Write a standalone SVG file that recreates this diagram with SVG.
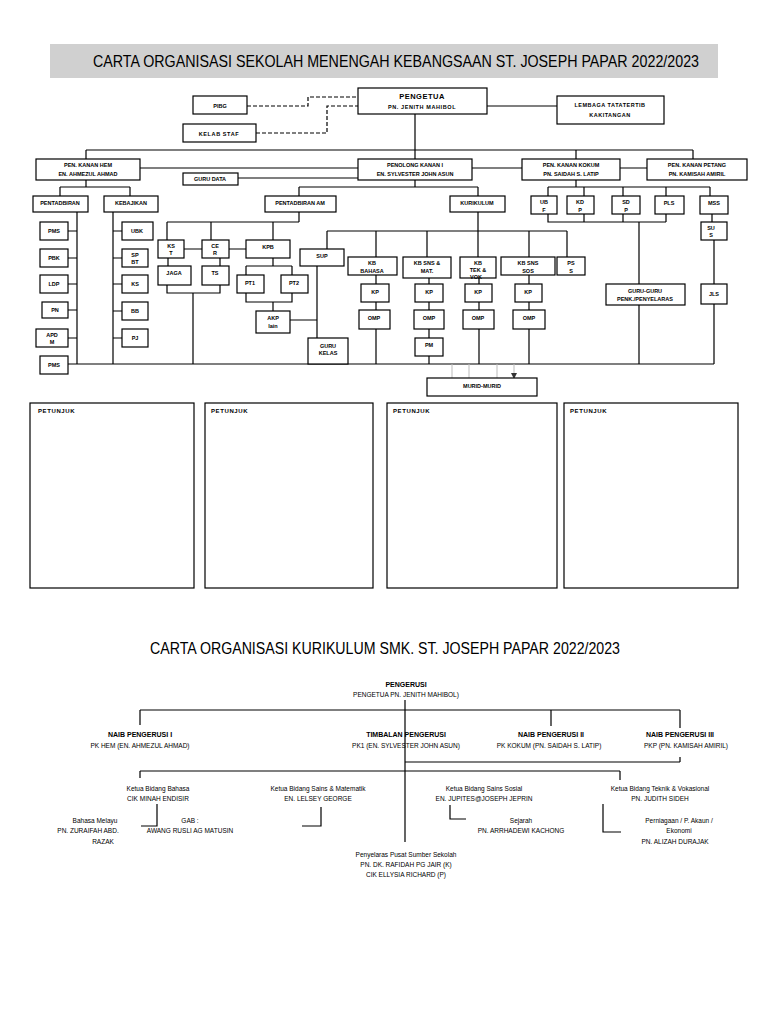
<svg xmlns="http://www.w3.org/2000/svg" width="768" height="1024" viewBox="0 0 768 1024">
<style>
rect.b{fill:#fff;stroke:#000;stroke-width:1.2}
text{font-family:"Liberation Sans",Arial,sans-serif;fill:#000}
.t{font-size:5.5px;font-weight:bold;text-anchor:middle}
.m{font-size:7.5px;font-weight:bold;text-anchor:middle}
.p{font-size:6px;font-weight:bold;letter-spacing:0.6px}
.h{font-size:7px;font-weight:bold;text-anchor:middle}
.s{font-size:6.5px;text-anchor:middle}
path.l{fill:none;stroke:#000;stroke-width:1.2}
path.d{fill:none;stroke:#000;stroke-width:1.2;stroke-dasharray:4,2}
path.g{fill:none;stroke:#bbb;stroke-width:1;marker-end:url(#ar)}
</style>
<defs><marker id="ar" markerWidth="6" markerHeight="6" refX="5" refY="3" orient="auto"><path d="M0,0 L6,3 L0,6 Z" fill="#333"/></marker></defs>
<rect width="768" height="1024" fill="#fff"/>
<rect x="50" y="44" width="668" height="34" fill="#d0d0d0"/>
<text x="396" y="67" font-size="17" text-anchor="middle" textLength="606" lengthAdjust="spacingAndGlyphs">CARTA ORGANISASI SEKOLAH MENENGAH KEBANGSAAN ST. JOSEPH PAPAR 2022/2023</text>
<g id="connectors">
<path class="d" d="M247,106H308V97H358M256,133H327V106H358"/>
<path class="l" d="M487,106H557M415,114V150M86,150H693M86,150V159M415,150V159M576,150V159M693,150V159M140,168H358M472,168H522M620,168H647M238,178H358"/>
<path class="l" d="M86,180V187M60,187H130M60,187V196M130,187V196M415,180V187M299,187H478M299,187V196M478,187V196M576,180V187M548,187H710M548,187V196M584,187V196M623,187V196M666,187V196M710,187V196"/>
<path class="l" d="M548,214V222H666M584,214V222M623,214V222M666,214V222M639,222V284M712,214V222M714,240V284M714,304V364"/>
<path class="l" d="M77,212V364M68,231H77M68,258H77M68,284H77M68,310H77M68,338H77M113,212V364M113,231H122M113,258H122M113,284H122M113,311H122M113,338H122M68,364H714"/>
<path class="l" d="M299,212V222M167,222H299M167,222V240M211,222V240M273,222V240M184,249H202M229,249H246M168,258V266M220,258V266M167,285V293H220V285M193,293V364M273,258V266M246,266H292M246,266V275M292,266V275M246,293V302H292V293M273,302V311M290,320H317"/>
<path class="l" d="M478,212V231M327,231H567M327,231V249M376,231V257M427,231V257M478,231V257M529,231V257M567,231V257M317,266V338M327,358V364"/>
<path class="l" d="M376,275V284M376,302V310M376,329V364M429,278V284M429,302V310M429,329V338M429,356V364M479,278V284M479,302V310M479,329V364M529,275V284M529,302V310M529,329V364M639,305V364"/>
<path class="g" d="M452,364V378M469,364V378M497,364V378M514,364V378"/>
<path class="l" d="M405,700V842M140,710H680M140,710V725M551,710V726M680,710V728M405,762H680M680,757V762M140,771H620M140,771V778M620,771V780M157,804V826H141M321,807V826H302M450,805V819H466M603,804V832H621"/>
</g>
<g id="pengetua"><rect class="b" x="358" y="88" width="129" height="26"/><text class="m" x="422" y="99" font-weight="normal" letter-spacing="0.5">PENGETUA</text><text class="t" x="422" y="109" letter-spacing="0.6">PN. JENITH MAHIBOL</text></g>
<g id="pibg"><rect class="b" x="193" y="96" width="54" height="18"/><text class="t" x="220" y="108">PIBG</text></g>
<g id="kelab"><rect class="b" x="183" y="124" width="73" height="18"/><text class="t" x="219" y="136" letter-spacing="0.6">KELAB STAF</text></g>
<g id="lembaga"><rect class="b" x="557" y="96" width="107" height="28"/><text class="t" x="610" y="107" letter-spacing="0.5">LEMBAGA TATATERTIB</text><text class="t" x="610" y="117" letter-spacing="0.5">KAKITANGAN</text></g>
<g id="hem"><rect class="b" x="36" y="159" width="104" height="21"/><text class="t" x="88" y="167" font-size="4.5">PEN. KANAN HEM</text><text class="t" x="88" y="176">EN. AHMEZUL AHMAD</text></g>
<g id="penolong"><rect class="b" x="358" y="159" width="114" height="21"/><text class="t" x="415" y="167" font-size="4.5">PENOLONG KANAN I</text><text class="t" x="415" y="176">EN. SYLVESTER JOHN ASUN</text></g>
<g id="kokum"><rect class="b" x="522" y="159" width="98" height="21"/><text class="t" x="571" y="167" font-size="4.5">PEN. KANAN KOKUM</text><text class="t" x="571" y="176">PN. SAIDAH S. LATIP</text></g>
<g id="petang"><rect class="b" x="647" y="159" width="100" height="21"/><text class="t" x="697" y="167" font-size="4.5">PEN. KANAN PETANG</text><text class="t" x="697" y="176">PN. KAMISAH AMIRIL</text></g>
<g id="gurudata"><rect class="b" x="183" y="173" width="55" height="12"/><text class="t" x="210" y="181" font-size="4.5">GURU DATA</text></g>
<g id="pentadbiran"><rect class="b" x="33" y="196" width="55" height="16"/><text class="t" x="60" y="205" font-size="4.5">PENTADBIRAN</text></g>
<g id="kebajikan"><rect class="b" x="104" y="196" width="54" height="16"/><text class="t" x="131" y="205" font-size="4.5">KEBAJIKAN</text></g>
<g id="pentadbiranam"><rect class="b" x="265" y="196" width="71" height="16"/><text class="t" x="300" y="205" font-size="4.5">PENTADBIRAN AM</text></g>
<g id="kurikulum"><rect class="b" x="450" y="196" width="55" height="16"/><text class="t" x="477" y="205" font-size="4.5">KURIKULUM</text></g>
<g id="ubf"><rect class="b" x="531" y="196" width="26" height="18"/><text class="t" x="544" y="204">UB</text><text class="t" x="544" y="212">F</text></g>
<g id="kdp"><rect class="b" x="567" y="196" width="27" height="18"/><text class="t" x="580" y="204">KD</text><text class="t" x="580" y="212">P</text></g>
<g id="sdp"><rect class="b" x="612" y="196" width="28" height="18"/><text class="t" x="626" y="204">SD</text><text class="t" x="626" y="212">P</text></g>
<g id="pls"><rect class="b" x="655" y="196" width="29" height="18"/><text class="t" x="669" y="205">PLS</text></g>
<g id="mss"><rect class="b" x="700" y="196" width="28" height="18"/><text class="t" x="714" y="205">MSS</text></g>
<g id="sus"><rect class="b" x="701" y="222" width="26" height="18"/><text class="t" x="711" y="230">SU</text><text class="t" x="711" y="237">S</text></g>
<g id="jls"><rect class="b" x="701" y="284" width="26" height="20"/><text class="t" x="714" y="296">JLS</text></g>
<g id="gurugurupenk"><rect class="b" x="606" y="284" width="79" height="21"/><text class="t" x="645" y="293">GURU-GURU</text><text class="t" x="645" y="301">PENK./PENYELARAS</text></g>
<g id="pms1"><rect class="b" x="40" y="222" width="28" height="18"/><text class="t" x="54" y="233">PMS</text></g>
<g id="pbk"><rect class="b" x="40" y="249" width="28" height="18"/><text class="t" x="54" y="260">PBK</text></g>
<g id="ldp"><rect class="b" x="40" y="275" width="28" height="18"/><text class="t" x="54" y="286">LDP</text></g>
<g id="pn"><rect class="b" x="42" y="302" width="26" height="16"/><text class="t" x="55" y="312">PN</text></g>
<g id="apdm"><rect class="b" x="36" y="329" width="32" height="18"/><text class="t" x="52" y="337">APD</text><text class="t" x="52" y="344">M</text></g>
<g id="pms2"><rect class="b" x="40" y="356" width="28" height="18"/><text class="t" x="54" y="367">PMS</text></g>
<g id="ubk"><rect class="b" x="122" y="222" width="31" height="18"/><text class="t" x="137" y="233">UBK</text></g>
<g id="spbt"><rect class="b" x="122" y="249" width="26" height="18"/><text class="t" x="135" y="257">SP</text><text class="t" x="135" y="264">BT</text></g>
<g id="ks"><rect class="b" x="122" y="275" width="26" height="18"/><text class="t" x="135" y="286">KS</text></g>
<g id="bb"><rect class="b" x="122" y="302" width="26" height="18"/><text class="t" x="135" y="313">BB</text></g>
<g id="pj"><rect class="b" x="122" y="329" width="26" height="18"/><text class="t" x="135" y="340">PJ</text></g>
<g id="kst"><rect class="b" x="158" y="240" width="26" height="18"/><text class="t" x="171" y="248">KS</text><text class="t" x="171" y="255">T</text></g>
<g id="cer"><rect class="b" x="202" y="240" width="27" height="18"/><text class="t" x="215" y="248">CE</text><text class="t" x="215" y="255">R</text></g>
<g id="kpb"><rect class="b" x="246" y="240" width="44" height="18"/><text class="t" x="268" y="249">KPB</text></g>
<g id="jaga"><rect class="b" x="158" y="266" width="33" height="19"/><text class="t" x="174" y="275">JAGA</text></g>
<g id="ts"><rect class="b" x="202" y="266" width="27" height="19"/><text class="t" x="215" y="275">TS</text></g>
<g id="pt1"><rect class="b" x="237" y="275" width="27" height="18"/><text class="t" x="250" y="285">PT1</text></g>
<g id="pt2"><rect class="b" x="281" y="275" width="27" height="18"/><text class="t" x="294" y="285">PT2</text></g>
<g id="akp"><rect class="b" x="256" y="311" width="34" height="22"/><text class="t" x="273" y="320">AKP</text><text class="t" x="273" y="328">lain</text></g>
<g id="sup"><rect class="b" x="300" y="249" width="44" height="17"/><text class="t" x="322" y="258">SUP</text></g>
<g id="gurukelas"><rect class="b" x="308" y="338" width="40" height="26"/><text class="t" x="328" y="348">GURU</text><text class="t" x="328" y="355">KELAS</text></g>
<g id="kbbahasa"><rect class="b" x="348" y="257" width="49" height="18"/><text class="t" x="372" y="265">KB</text><text class="t" x="372" y="273">BAHASA</text></g>
<g id="kbsnsmat"><rect class="b" x="403" y="257" width="48" height="21"/><text class="t" x="427" y="265">KB SNS &amp;</text><text class="t" x="427" y="273">MAT.</text></g>
<g id="kbtek"><rect class="b" x="460" y="257" width="36" height="21"/><text class="t" x="478" y="265">KB</text><text class="t" x="478" y="272">TEK &amp;</text><text class="t" x="476" y="279">VOK</text></g>
<g id="kbsnssos"><rect class="b" x="501" y="257" width="54" height="18"/><text class="t" x="528" y="265">KB SNS</text><text class="t" x="528" y="273">SOS</text></g>
<g id="pss"><rect class="b" x="557" y="257" width="28" height="18"/><text class="t" x="571" y="265">PS</text><text class="t" x="571" y="273">S</text></g>
<g id="kp1"><rect class="b" x="361" y="284" width="28" height="18"/><text class="t" x="375" y="294">KP</text></g>
<g id="kp2"><rect class="b" x="415" y="284" width="28" height="18"/><text class="t" x="429" y="294">KP</text></g>
<g id="kp3"><rect class="b" x="465" y="284" width="27" height="18"/><text class="t" x="478" y="294">KP</text></g>
<g id="kp4"><rect class="b" x="515" y="284" width="27" height="18"/><text class="t" x="528" y="294">KP</text></g>
<g id="omp1"><rect class="b" x="359" y="310" width="31" height="19"/><text class="t" x="374" y="320">OMP</text></g>
<g id="omp2"><rect class="b" x="414" y="310" width="30" height="19"/><text class="t" x="429" y="320">OMP</text></g>
<g id="omp3"><rect class="b" x="463" y="310" width="31" height="19"/><text class="t" x="478" y="320">OMP</text></g>
<g id="omp4"><rect class="b" x="513" y="310" width="32" height="19"/><text class="t" x="529" y="320">OMP</text></g>
<g id="pm"><rect class="b" x="415" y="338" width="28" height="18"/><text class="t" x="429" y="347">PM</text></g>
<g id="murid"><rect class="b" x="427" y="378" width="110" height="18"/><text class="t" x="482" y="388" font-size="6">MURID-MURID</text></g>
<g id="petunjuk1"><rect class="b" x="30" y="403" width="164" height="185"/><text class="p" x="38" y="413">PETUNJUK</text></g>
<g id="petunjuk2"><rect class="b" x="205" y="403" width="168" height="185"/><text class="p" x="211" y="413">PETUNJUK</text></g>
<g id="petunjuk3"><rect class="b" x="387" y="403" width="170" height="185"/><text class="p" x="393" y="413">PETUNJUK</text></g>
<g id="petunjuk4"><rect class="b" x="564" y="403" width="174" height="185"/><text class="p" x="570" y="413">PETUNJUK</text></g>
<text x="385" y="654" font-size="16" text-anchor="middle" textLength="470" lengthAdjust="spacingAndGlyphs">CARTA ORGANISASI KURIKULUM SMK. ST. JOSEPH PAPAR 2022/2023</text>
<g id="pengerusi"><text class="h" x="406" y="687">PENGERUSI</text><text class="s" x="406" y="697">PENGETUA PN. JENITH MAHIBOL)</text></g>
<g id="naib1"><text class="h" x="140" y="737">NAIB PENGERUSI I</text><text class="s" x="140" y="748">PK HEM (EN. AHMEZUL AHMAD)</text></g>
<g id="timbalan"><text class="h" x="406" y="737">TIMBALAN PENGERUSI</text><text class="s" x="406" y="748">PK1 (EN. SYLVESTER JOHN ASUN)</text></g>
<g id="naib2"><text class="h" x="551" y="737">NAIB PENGERUSI  II</text><text class="s" x="549" y="748">PK KOKUM  (PN. SAIDAH S. LATIP)</text></g>
<g id="naib3"><text class="h" x="680" y="737">NAIB PENGERUSI III</text><text class="s" x="686" y="748">PKP (PN. KAMISAH AMIRIL)</text></g>
<g id="kbbahasa2"><text class="s" x="158" y="791">Ketua Bidang Bahasa</text><text class="s" x="158" y="801">CIK MINAH ENDISIR</text></g>
<g id="kbsains"><text class="s" x="318" y="791">Ketua Bidang Sains &amp; Matematik</text><text class="s" x="318" y="801">EN. LELSEY GEORGE</text></g>
<g id="kbsosial"><text class="s" x="484" y="791">Ketua Bidang Sains Sosial</text><text class="s" x="484" y="801">EN. JUPITES@JOSEPH JEPRIN</text></g>
<g id="kbteknik"><text class="s" x="660" y="791">Ketua Bidang Teknik &amp; Vokasional</text><text class="s" x="660" y="801">PN. JUDITH SIDEH</text></g>
<g id="bm"><text class="s" x="95" y="823">Bahasa Melayu</text><text class="s" x="88" y="833">PN. ZURAIFAH ABD.</text><text class="s" x="103" y="844">RAZAK</text></g>
<g id="gab"><text class="s" x="190" y="823" text-anchor="start">GAB :</text><text class="s" x="190" y="833" text-anchor="start">AWANG RUSLI AG MATUSIN</text></g>
<g id="sejarah"><text class="s" x="521" y="823">Sejarah</text><text class="s" x="521" y="833">PN. ARRHADEWI KACHONG</text></g>
<g id="perniagaan"><text class="s" x="679" y="823">Perniagaan / P. Akaun /</text><text class="s" x="679" y="833">Ekonomi</text><text class="s" x="675" y="844">PN. ALIZAH DURAJAK</text></g>
<g id="penyelaras"><text class="s" x="406" y="857">Penyelaras Pusat Sumber Sekolah</text><text class="s" x="406" y="867">PN. DK. RAFIDAH PG JAIR (K)</text><text class="s" x="406" y="877">CIK ELLYSIA RICHARD (P)</text></g>
</svg>
